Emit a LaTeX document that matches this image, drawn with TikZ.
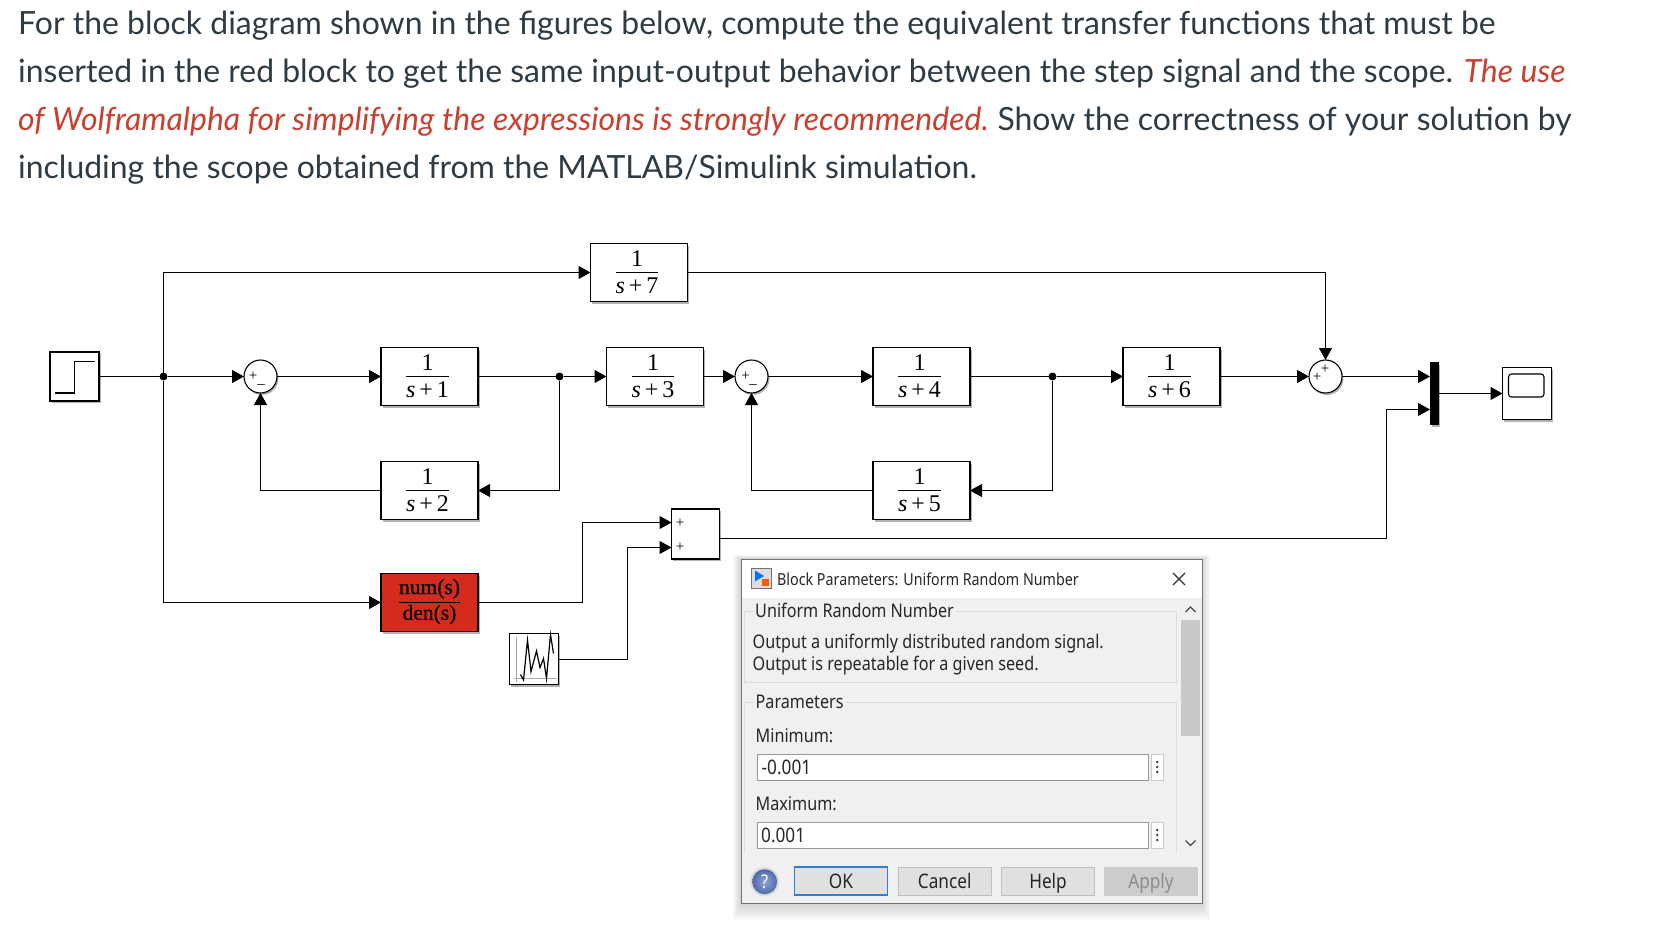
\documentclass[tikz,border=0pt]{standalone}
\usepackage{fontspec}
\setmainfont{Lato}
\newfontfamily\blockfont{Liberation Serif}
\newfontfamily\redfont[FakeBold=0.4]{Liberation Serif}
\newfontfamily\dialogfont[FakeStretch=0.86]{Noto Sans}
\usetikzlibrary{arrows.meta, shadows}
\definecolor{bodytext}{HTML}{2D3B45}
\definecolor{redtext}{HTML}{C8402F}
\definecolor{redblock}{HTML}{D32C1E}
\definecolor{dialoggray}{HTML}{F0F0F0}
\definecolor{linegray}{HTML}{DCDCDC}
\definecolor{okblue}{HTML}{2F7FD6}
\definecolor{helpblue}{HTML}{5F7CC4}
\setlength{\arrayrulewidth}{1.2pt}
\newcommand{\tfbox}[1]{\begin{tabular}{@{}c@{}}\rule{0pt}{22pt}1\\[-2pt]\hline\rule{0pt}{20pt}\textit{s}\,+\,#1\end{tabular}\kern4pt}
\begin{document}
\begin{tikzpicture}[x=1pt, y=-1pt, line join=miter,
	blockshadow/.style={drop shadow={shadow xshift=1.5pt, shadow yshift=-2pt, fill=black, opacity=.3}},
	blockbox/.style={draw, fill=white, line width=1.3pt, minimum width=97pt, minimum height=58pt, inner sep=0pt, outer sep=0pt, font=\blockfont\fontsize{24}{24}\selectfont, blockshadow},
	sumcircle/.style={draw, circle, fill=white, line width=1.1pt, minimum size=33pt, inner sep=0pt, outer sep=0pt, blockshadow},
	signtext/.style={inner sep=0pt, font=\blockfont\fontsize{15}{15}\selectfont},
	junction/.style={circle, fill=black, minimum size=8pt, inner sep=0pt, outer sep=0pt},
	wire/.style={line width=1.1pt},
	sig/.style={wire, -{Triangle[length=12pt, width=13pt]}},
	bodyline/.style={anchor=base west, inner sep=0pt, text=bodytext, font=\fontsize{31.95}{36}\selectfont},
	dlgtext/.style={anchor=base west, inner sep=0pt, text=black!85, font=\dialogfont\fontsize{18.8}{20}\selectfont},
	dlgfield/.style={draw=black!40, fill=white, line width=1pt},
	dlgbutton/.style={draw=black!25, fill=black!12, line width=1pt, minimum height=28pt, minimum width=93pt, inner sep=0pt, text height=18pt, text depth=4pt, text=black!85, font=\dialogfont\fontsize{20}{20}\selectfont}]

	\useasboundingbox (0,0) rectangle (1662,942);
	\fill[white] (0,0) rectangle (1662,942);

	% Question text
	\node[bodyline] (lineA) at (18,34.5) {For the block diagram shown in the figures below, compute the equivalent transfer functions that must be};
	\node[bodyline] (lineB) at (18,82.5) {inserted in the red block to get the same input-output behavior between the step signal and the scope. \textcolor{redtext}{\itshape The use}};
	\node[bodyline] (lineC) at (18,130) {\textcolor{redtext}{\itshape of Wolframalpha for simplifying the expressions is strongly recommended.}\kern-2pt{} Show the correctness of your solution by};
	\node[bodyline] (lineD) at (18,178) {including the scope obtained from the MATLAB/Simulink simulation.};

	% Blocks
	\node[blockbox, minimum width=49pt, minimum height=49pt] (stepblk) at (74.5,376.5) {};
	\node[sumcircle] (sumA) at (260.5,376.5) {};
	\node[sumcircle] (sumB) at (751.5,376.5) {};
	\node[sumcircle] (sumC) at (1325.5,376.5) {};
	\node[blockbox] (tfOne) at (429.5,376.5) {\tfbox{1}};
	\node[blockbox] (tfTwo) at (429.5,490.5) {\tfbox{2}};
	\node[blockbox] (tfThree) at (655,376.5) {\tfbox{3}};
	\node[blockbox] (tfFour) at (921.5,376.5) {\tfbox{4}};
	\node[blockbox] (tfFive) at (921.5,490.5) {\tfbox{5}};
	\node[blockbox] (tfSix) at (1171.5,376.5) {\tfbox{6}};
	\node[blockbox] (tfSeven) at (639,272.5) {\tfbox{7}};
	\node[blockbox, fill=redblock, font=\redfont\fontsize{21.5}{22}\selectfont] (redblk) at (429.5,602.5) {\begin{tabular}{@{}c@{}}num(s)\\[1pt]\hline\rule{0pt}{17pt}den(s)\end{tabular}};
	\node[blockbox, minimum width=49pt, minimum height=51pt] (randblk) at (534,659) {};
	\node[blockbox, minimum width=48pt, minimum height=50pt] (addblk) at (695.5,534) {};
	\node[draw, fill=black, minimum width=8pt, minimum height=62pt, inner sep=0pt, outer sep=0pt, blockshadow] (muxblk) at (1434,393.5) {};
	\node[blockbox, minimum width=49pt, minimum height=52pt] (scopeblk) at (1527,393.5) {};

	% Block icons
	\draw[line width=1.1pt] (54.5,393) -- (74.6,393) -- (74.6,361.5) -- (94.6,361.5);
	\draw[line width=1.1pt, rounded corners=3pt] (1508.5,374) rectangle (1544,397);
	\draw[black!35, line width=1pt] (516.5,637) -- (516.5,682);
	\draw[black!35, line width=1pt] (513.5,678.5) -- (557,678.5);
	\draw[line width=1.2pt] (520.5,674.5) -- (523.5,680) -- (527.5,640) -- (531,671.5) -- (536.5,651) -- (540,667.5) -- (543.5,658.5) -- (546.5,678.5) -- (550.5,634.5) -- (553.5,653.5);

	% Signs
	\node[signtext] (signA) at (253,376) {+};
	\node[signtext] (signB) at (261,384) {\_};
	\node[signtext] (signC) at (745.5,376) {+};
	\node[signtext] (signD) at (753,384) {\_};
	\node[signtext] (signE) at (1325,369) {+};
	\node[signtext] (signF) at (1317,377) {+};
	\node[signtext] (signG) at (680,523) {+};
	\node[signtext] (signH) at (680,547) {+};

	% Junctions and free ends
	\node[junction] (juncA) at (163.5,376.5) {};
	\node[junction] (juncB) at (559.5,376.5) {};
	\node[junction] (juncC) at (1052.5,376.5) {};
	\coordinate (addIn) at (671.5,522.5);
	\coordinate (addNoise) at (671.5,547.5);
	\coordinate (addOut) at (719.5,538.5);
	\coordinate (bendRed) at (582.5,522.5);
	\coordinate (bendRand) at (627.5,547.5);
	\coordinate (bendMux) at (1386.5,409.5);
	\coordinate (muxA) at (1430,376.5);
	\coordinate (muxB) at (1430,409.5);

	% Connectors
	\draw[wire] (stepblk) -- (juncA);
	\draw[sig] (juncA) -- (sumA);
	\draw[sig] (juncA) |- (tfSeven);
	\draw[sig] (juncA) |- (redblk);
	\draw[sig] (sumA) -- (tfOne);
	\draw[sig] (juncB) -- (tfThree);
	\draw[wire] (tfOne) -- (juncB);
	\draw[sig] (juncB) |- (tfTwo);
	\draw[sig] (tfTwo) -| (sumA);
	\draw[sig] (tfThree) -- (sumB);
	\draw[sig] (sumB) -- (tfFour);
	\draw[wire] (tfFour) -- (juncC);
	\draw[sig] (juncC) -- (tfSix);
	\draw[sig] (juncC) |- (tfFive);
	\draw[sig] (tfFive) -| (sumB);
	\draw[sig] (tfSix) -- (sumC);
	\draw[sig] (tfSeven) -| (sumC);
	\draw[sig] (sumC) -- (muxA);
	\draw[sig] (redblk) -| (bendRed) -- (addIn);
	\draw[sig] (randblk.east |- 0,659.5) -| (bendRand) -- (addNoise);
	\draw[sig] (addOut) -| (bendMux) -- (muxB);
	\draw[sig] (muxblk) -- (scopeblk);

	% Dialog window
	\foreach \i in {1,...,14} {
		\fill[black, opacity=.012] (741-\i*.6,559-\i*.3) rectangle (1202+\i*.6,904+\i*1.2);
	}
	\draw[fill=dialoggray, draw=black!55, line width=1pt] (741,559.5) rectangle (1202,903.5);
	\fill[white] (741.5,560) rectangle (1201.5,598);
	\fill[black!13] (751,568) rectangle (771.5,588.5);
	\draw[black!55, line width=.8pt] (751,568) rectangle (771.5,588.5);
	\fill[blue!55!cyan] (755,570.5) -- (764,576) -- (755,581.5) -- cycle;
	\fill[orange!70!red] (762,578.5) rectangle (769,586);
	\node[dlgtext, font=\dialogfont\fontsize{16.6}{18}\selectfont] (titletext) at (777,585) {Block Parameters: Uniform Random Number};
	\draw[black!80, line width=1.2pt] (1173,573) -- (1185,585) (1173,585) -- (1185,573);

	\draw[linegray, line width=1pt] (744,682) -- (1176.5,682) -- (1176.5,611.5) -- (744,611.5) -- cycle;
	\draw[linegray, line width=1pt] (744,853) -- (744,702) -- (1176.5,702) -- (1176.5,853);
	\node[dlgtext, fill=dialoggray, inner xsep=2pt, inner ysep=1pt] (groupA) at (753,617.5) {Uniform Random Number};
	\node[dlgtext] (descA) at (752.5,648.5) {Output a uniformly distributed random signal.};
	\node[dlgtext] (descB) at (752.5,670.5) {Output is repeatable for a given seed.};
	\node[dlgtext, fill=dialoggray, inner xsep=2pt, inner ysep=1pt] (groupB) at (753.5,708.5) {Parameters};
	\node[dlgtext] (minlabel) at (755.5,742) {Minimum:};
	\node[dlgtext] (maxlabel) at (755.5,810) {Maximum:};
	\draw[dlgfield] (757.5,754) rectangle (1148,780);
	\draw[dlgfield] (757.5,822) rectangle (1148,848.5);
	\node[dlgtext, font=\dialogfont\fontsize{20}{20}\selectfont] (minvalue) at (761.5,774) {-0.001};
	\node[dlgtext, font=\dialogfont\fontsize{20}{20}\selectfont] (maxvalue) at (761,842.5) {0.001};
	\foreach \fy in {767,835} {
		\draw[draw=black!20, fill=white, line width=1pt] (1151,\fy-13) rectangle (1163.5,\fy+13);
		\foreach \dy in {-5,0,5} {
			\fill[black!75] (1157.2,\fy+\dy) circle (1.3);
		}
	}

	% Scroll bar
	\fill[black!21] (1181,620) rectangle (1200,735.5);
	\draw[black!70, line width=1.2pt] (1185.5,612) -- (1190.5,607) -- (1195.5,612);
	\draw[black!70, line width=1.2pt] (1185.5,840.5) -- (1190.5,845.5) -- (1195.5,840.5);

	% Buttons
	\fill[black!14] (764.7,881.7) circle (14.5);
	\shade[inner color=helpblue!70!white, outer color=helpblue!85!black] (764.7,881.7) circle (12.5);
	\node[text=white, inner sep=0pt, font=\dialogfont\bfseries\fontsize{19}{19}\selectfont] (helpmark) at (764.7,881.7) {?};
	\node[dlgbutton, draw=okblue, line width=1.3pt] (okbtn) at (841,881) {OK};
	\node[dlgbutton] (cancelbtn) at (944.7,881) {Cancel};
	\node[dlgbutton] (helpbtn) at (1048,881) {Help};
	\node[dlgbutton, draw=black!20, fill=black!20, text=black!45] (applybtn) at (1151,881) {Apply};
\end{tikzpicture}
\end{document}
